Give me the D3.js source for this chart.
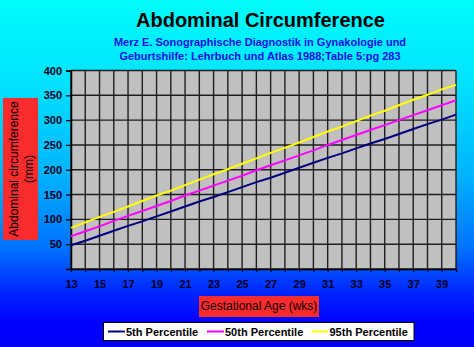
<!DOCTYPE html>
<html><head><meta charset="utf-8">
<script src="https://cdn.jsdelivr.net/npm/d3@7"></script>
<style>html,body{margin:0;padding:0;overflow:hidden;}svg{display:block;}</style>
</head><body>
<script>
const weeks = [13,14,15,16,17,18,19,20,21,22,23,24,25,26,27,28,29,30,31,32,33,34,35,36,37,38,39,40];
const p5  = [48,57,67,77,87,96,106,116,126,136,145,155,165,175,184,194,204,214,224,233,243,253,262,272,282,292,301,311];
const p50 = [66,76,86,97,107,117,127,137,148,158,168,178,188,199,209,219,229,239,250,260,270,280,290,300,310,320,330,340];
const p95 = [83,94,105,115,126,137,148,158,169,180,191,201,212,223,234,244,255,266,277,287,298,309,319,330,341,351,362,371];
const xTickLabels = [13,15,17,19,21,23,25,27,29,31,33,35,37,39];
const yTicks = [0,50,100,150,200,250,300,350,400];
const seriesNames = ["5th Percentile","50th Percentile","95th Percentile"];
const seriesColors = ["#000080","#ff00ff","#ffff00"];

const W=474,H=347;
const svg=d3.select("body").append("svg").attr("width",W).attr("height",H);
const defs=svg.append("defs");
const g=defs.append("linearGradient").attr("id","bg").attr("x1",0).attr("y1",0).attr("x2",0).attr("y2",1);
[[0,"#00fbfb"],[0.2,"#00e8ff"],[0.5,"#00b4ff"],[0.72,"#0070ff"],[0.85,"#0022ff"],[0.93,"#0000ff"],[1,"#0000f8"]]
 .forEach(s=>g.append("stop").attr("offset",s[0]).attr("stop-color",s[1]));
svg.append("rect").attr("width",W).attr("height",H).attr("fill","url(#bg)");

const L=71,R=456,T=70.5,B=269;
const x=d3.scalePoint().domain(weeks).range([L,R]).padding(0);
const y=d3.scaleLinear().domain([0,400]).range([B,T]);

svg.append("rect").attr("x",L).attr("y",T).attr("width",R-L).attr("height",B-T).attr("fill","#c0c0c0");

// grid
svg.append("g").selectAll("line").data(weeks).join("line")
  .attr("x1",d=>x(d)).attr("x2",d=>x(d)).attr("y1",T).attr("y2",B)
  .attr("stroke","#1e1e1e").attr("stroke-width",1.4);
svg.append("g").selectAll("line").data(yTicks).join("line")
  .attr("x1",L).attr("x2",R).attr("y1",d=>y(d)).attr("y2",d=>y(d))
  .attr("stroke","#1e1e1e").attr("stroke-width",1.4);

// axes
const font="Liberation Sans, Arial, sans-serif";
const ya=svg.append("g").attr("transform",`translate(${L},0)`)
  .call(d3.axisLeft(y).tickValues(yTicks.filter(d=>d>0)).tickSize(5).tickPadding(4));
ya.select(".domain").attr("stroke","#000").attr("stroke-width",1.5);
ya.selectAll(".tick line").attr("stroke","#000").attr("stroke-width",1.3);
ya.selectAll("text").attr("font-family",font).attr("font-size",11).attr("font-weight","bold").attr("fill","#00001a");

const xa=svg.append("g").attr("transform",`translate(0,${B})`)
  .call(d3.axisBottom(x).tickValues(weeks).tickSize(3).tickPadding(8)
    .tickFormat(d=>xTickLabels.includes(d)?String(d):""));
xa.select(".domain").attr("stroke","#000").attr("stroke-width",1.5).attr("d",`M${L},0.5H${R}`);
xa.selectAll(".tick line").attr("stroke","#000").attr("stroke-width",1.2);
xa.selectAll("text").attr("font-family",font).attr("font-size",11).attr("font-weight","bold").attr("fill","#00001a");

// lines
const line=d3.line().x((d,i)=>x(weeks[i])).y(d=>y(d));
[p5,p50,p95].forEach((s,i)=>{
  svg.append("path").attr("d",line(s)).attr("fill","none")
    .attr("stroke",seriesColors[i]).attr("stroke-width",2);
});

// titles
svg.append("text").attr("x",260.5).attr("y",27).attr("text-anchor","middle")
  .attr("font-family",font).attr("font-size",20).attr("font-weight","bold").attr("fill","#000")
  .text("Abdominal Circumference");
svg.append("text").attr("x",260).attr("y",45.5).attr("text-anchor","middle")
  .attr("font-family",font).attr("font-size",11).attr("font-weight","bold").attr("fill","#1010e8")
  .text("Merz E. Sonographische Diagnostik in Gynakologie und");
svg.append("text").attr("x",260).attr("y",60).attr("text-anchor","middle")
  .attr("font-family",font).attr("font-size",11).attr("font-weight","bold").attr("fill","#1010e8")
  .text("Geburtshilfe: Lehrbuch und Atlas 1988;Table 5:pg 283");

// y title box
svg.append("rect").attr("x",3).attr("y",98).attr("width",35).attr("height",142).attr("fill","#f82c2c");
const yt=svg.append("g").attr("transform","translate(0,169) rotate(-90)");
yt.append("text").attr("x",0).attr("y",17.5).attr("text-anchor","middle")
  .attr("font-family",font).attr("font-size",12).attr("fill","#000").text("Abdominal circumference");
yt.append("text").attr("x",0).attr("y",32.5).attr("text-anchor","middle")
  .attr("font-family",font).attr("font-size",12).attr("fill","#000").text("(mm)");

// x title box
svg.append("rect").attr("x",199).attr("y",296).attr("width",120).attr("height",21).attr("fill","#f82c2c");
svg.append("text").attr("x",259).attr("y",310).attr("text-anchor","middle")
  .attr("font-family",font).attr("font-size",12).attr("fill","#100000").text("Gestational Age (wks)");

// legend
svg.append("rect").attr("x",103.5).attr("y",322.5).attr("width",310.5).attr("height",18)
  .attr("fill","#fff").attr("stroke","#000").attr("stroke-width",1);
const legX=[108,207,311.5];
seriesNames.forEach((n,i)=>{
  svg.append("line").attr("x1",legX[i]).attr("x2",legX[i]+17).attr("y1",331.5).attr("y2",331.5)
    .attr("stroke",seriesColors[i]).attr("stroke-width",2);
  svg.append("text").attr("x",legX[i]+18).attr("y",335.5)
    .attr("font-family",font).attr("font-size",11).attr("font-weight","bold").attr("fill","#000").text(n);
});
</script>
</body></html>
